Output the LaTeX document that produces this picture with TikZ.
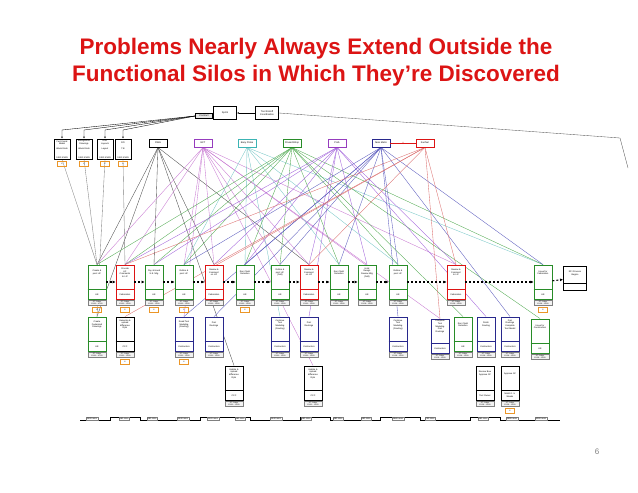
\documentclass[tikz,border=0pt]{standalone}
\usepackage{fontspec}
\setmainfont{Liberation Sans}
\usetikzlibrary{calc,arrows.meta}
\pgfdeclarelayer{bg}
\pgfdeclarelayer{paper}
\pgfsetlayers{paper,bg,main}
\definecolor{tred}{RGB}{220,20,20}
\definecolor{bgreen}{RGB}{40,140,40}
\definecolor{bnavy}{RGB}{40,40,140}
\definecolor{bpurp}{RGB}{150,60,190}
\definecolor{bteal}{RGB}{60,180,180}
\definecolor{borange}{RGB}{235,150,40}
\definecolor{lmag}{RGB}{200,120,210}
\definecolor{lgreen}{RGB}{80,170,80}
\definecolor{lteal}{RGB}{120,200,200}
\definecolor{lnavy}{RGB}{90,90,190}
\definecolor{lred}{RGB}{220,110,110}
\tikzset{
 tbox/.style={draw,line width=0.9pt,minimum width=18pt,minimum height=34pt,inner sep=0pt,fill=white},
 tiny/.style={font=\fontsize{2.2}{2.6}\selectfont,align=center,text width=16pt,inner sep=0pt},
 info/.style={draw=gray,fill=gray!10,line width=0.3pt,minimum width=18pt,minimum height=5pt,inner sep=0pt,font=\fontsize{1.8}{2}\selectfont,align=center},
 obox/.style={draw=borange,line width=0.8pt,minimum width=9pt,minimum height=5pt,inner sep=0pt,font=\fontsize{2}{2}\selectfont},
 topbox/.style={draw,line width=0.9pt,minimum width=18pt,minimum height=8pt,inner sep=0pt,fill=white,font=\fontsize{2.4}{2.6}\selectfont},
 conn/.style={line width=0.35pt},
 flow/.style={line width=1.1pt,dashed,dash pattern=on 2pt off 2pt,-{Latex[length=3pt,width=3pt]}},
 tl/.style={draw=gray,fill=white,line width=0.3pt,inner sep=0.6pt,font=\fontsize{2.2}{2.4}\selectfont}
}
\newcommand\tk[6]{%
 \node[tbox,draw=#4] (#1) at (#2,#3) {};
 \draw[#4,line width=0.5pt] ($(#1.south west)!0.3!(#1.north west)$) -- ($(#1.south east)!0.3!(#1.north east)$);
 \node[tiny] at ([yshift=-8pt]#1.north) {#5};
 \node[tiny] at ([yshift=5pt]#1.south) {#6};
 \node[info,anchor=north] (#1i) at ([yshift=-1pt]#1.south) {ST: 1 days\\[-0.3pt]10/28 -- 10/29};
}
\newcommand\ob[1]{\node[obox,anchor=north] at ([yshift=-1.5pt]#1i.south) {4};}
\begin{document}
\begin{tikzpicture}[x=1pt,y=-1pt]
\useasboundingbox (0,0) rectangle (638,493);
\begin{pgfonlayer}{paper}\fill[white] (0,0) rectangle (638,493);\end{pgfonlayer}
\node[font=\fontsize{22.5}{27}\selectfont\bfseries,text=tred,align=center] (title) at (316,62)
 {Problems Nearly Always Extend Outside the\\Functional Silos in Which They’re Discovered};
\node[font=\fontsize{8}{8}\selectfont,text=gray] (pg) at (597,452) {6};
% top
\node[topbox,minimum width=23pt,minimum height=13pt] (sprint) at (225,113) {Sprint};
\node[topbox,minimum width=23pt,minimum height=13pt,align=center] (kick) at (267,113) {Tool Kickoff\\Coordination};
\node[topbox,minimum width=17pt,minimum height=5pt,fill=gray!20] (contract) at (204,116) {Contract};
\draw[conn,-{Latex[length=2pt]}] (kick) -- (sprint);
\draw[conn] (sprint.west) -- (contract.east);
\coordinate (rt) at (628,168);
\draw[conn,gray!70!black] (kick.east) -- (620,138) -- (rt);
% left boxes
\foreach \n/\x/\a/\b/\c in {l1/62/{Fed Coord\\Model}/{Week Ends}/{0.5/0.5 MIN},l2/84/{Background\\Drawings}/{Week Ends}/{0.5/0.5 MIN},l3/105/{Duct\\Layouts}/{Layout}/{0.5/0.5 MIN},l4/123/{RFI}/{T.B}/{0.5/0.5 MIN}}{
 \node[draw,line width=0.6pt,minimum width=16pt,minimum height=20pt,fill=white] (\n) at (\x,149) {};
 \node[tiny] at ([yshift=-4pt]\n.north) {\a};
 \node[tiny] at (\n.center) {\b};
 \node[tiny] at ([yshift=2pt]\n.south) {\c};
 \node[obox] at (\x,163.5) {4};
 \begin{pgfonlayer}{bg}\draw[conn,-{Latex[length=2pt]}] (contract.west) -- (\x,130) -- (\n.north);\end{pgfonlayer}
}
% top colour boxes
\node[topbox,draw=black] (dwg) at (158,143) {DWG};
\node[topbox,draw=bpurp] (ect) at (203,143) {ECT};
\node[topbox,draw=bteal] (easy) at (247,143) {Easy Probe};
\node[topbox,draw=bgreen] (prased) at (292,143) {Prased Ehop};
\node[topbox,draw=bpurp] (prob) at (337,143) {Prob};
\node[topbox,draw=bnavy] (near) at (381,143) {Near Metro};
\node[topbox,draw=tred] (kach) at (425,143) {Kachari};
\draw[tred,line width=0.8pt] (near) -- node[font=\fontsize{3}{3}\selectfont]{//} (kach);
% main row
\tk{m1}{97}{282}{bgreen}{Create \&\\post LIF}{HE}
\tk{m2}{125}{282}{tred}{Provide\\LIF\\Comments\\to LIF}{Fabrication}
\tk{m3}{154}{282}{bgreen}{Pay \& Hand\\S.E. Mtg}{HE}
\tk{m4}{184}{282}{bgreen}{Refine \&\\post LIF}{HE}
\tk{m5}{214}{282}{tred}{Review \&\\Comment\\on LIF}{Fabrication}
\tk{m6}{245}{282}{bgreen}{Run Clash\\Detection}{HE}
\tk{m7}{280}{282}{bgreen}{Refine \&\\post LIF\\(fold)}{HE}
\tk{m8}{309}{282}{tred}{Review \&\\Comment\\on LIF}{Fabrication}
\tk{m9}{339}{282}{bgreen}{Run Clash\\Detection}{HE}
\tk{m10}{367}{282}{bgreen}{Hold\\Design\\Review Mtg\\(fold)}{HE}
\tk{m11}{398}{282}{bgreen}{Refine \&\\post LIF}{HE}
\tk{m12}{456}{282}{tred}{Review \&\\Comment\\to LIF}{Fabrication}
\tk{m13}{543}{282}{bgreen}{Issue for\\Fabrication}{HE}
\node[tbox,draw=black,minimum width=23pt,minimum height=24pt] (rfi) at (575,278) {};
\draw[line width=0.5pt] ($(rfi.south west)!0.3!(rfi.north west)$) -- ($(rfi.south east)!0.3!(rfi.north east)$);
\node[tiny,text width=20pt] at ([yshift=-8pt]rfi.north) {RFI Process\\Begins};
\ob{m1}\ob{m2}\ob{m3}\ob{m4}\ob{m6}\ob{m13}
\foreach \a/\b in {m1/m2,m2/m3,m3/m4,m4/m5,m5/m6,m6/m7,m7/m8,m8/m9,m9/m10,m10/m11,m11/m12,m12/m13,m13/rfi}
 \draw[flow] (\a) -- (\b);
% second row
\tk{s1}{97}{334}{bgreen}{Create\\Federated\\Drawings}{HE}
\tk{s2}{125}{334}{black}{Generate \&\\upload\\difference\\Rpts}{CCC}
\tk{s3}{184}{334}{bnavy}{Read Tool\\Modeling\\(Routing)}{Contractors}
\tk{s4}{214}{334}{bnavy}{Post\\Routings}{Contractors}
\tk{s5}{280}{334}{bnavy}{Continue\\Tool\\Modeling\\(Routing)}{Contractors}
\tk{s6}{309}{334}{bnavy}{Post\\Routings}{Contractors}
\tk{s7}{398}{334}{bnavy}{Continue\\Tool\\Modeling\\(Routing)}{Contractors}
\tk{s8}{440}{336}{bnavy}{Complete\\Tool\\Modeling\\Post\\Routings}{Contractors}
\tk{s9}{463}{334}{bgreen}{Run Clash\\Detection}{HE}
\tk{s10}{486}{334}{bnavy}{Finish\\Routing}{Contractors}
\tk{s11}{510}{334}{bnavy}{Post\\Routings\\Complete\\Tool Model}{Contractors}
\tk{s12}{540}{336}{bgreen}{Issue for\\Construction}{HE}
\ob{s2}\ob{s3}
% third row
\tk{t1}{234}{383}{black}{Update \&\\upload\\difference\\Rpts}{CCC}
\tk{t2}{313}{383}{black}{Update \&\\upload\\difference\\Rpts}{CCC}
\tk{t3}{485}{383}{black}{Review Bow\\Approve SF}{Tool Owner}
\tk{t4}{510}{383}{black}{Approve SF}{Match 1 ½\\Weeks}
\ob{t4}
% connectors from top sources (behind boxes)
\begin{pgfonlayer}{bg}
\foreach \t in {m1,m3,m5,m8,s1,t1}{\draw[conn,gray!60!black] (dwg.south) -- (\t.north);}
\foreach \t in {m1,m2,m4,m5,m7,m8,m10,m12,s3,s8,t2}{\draw[conn,lmag] (ect.south) -- (\t.north);}
\foreach \t in {m4,m6,m9,m11,m13,s5}{\draw[conn,lteal] (easy.south) -- (\t.north);}
\foreach \t in {m1,m2,m3,m4,m6,m7,m9,m11,m13,s9,s12}{\draw[conn,lgreen] (prased.south) -- (\t.north);}
\foreach \t in {m2,m3,m5,m6,m8,m10,m12,s6,s10}{\draw[conn,lmag!80!blue] (prob.south) -- (\t.north);}
\foreach \t in {m4,m6,m7,m9,m11,m13,s3,s4,s7,s11}{\draw[conn,lnavy] (near.south) -- (\t.north);}
\foreach \t in {m2,m5,m8,m12,s8,s2}{\draw[conn,lred] (kach.south) -- (\t.north);}
\foreach \s/\t in {l1/m1,l2/m1,l3/s1,l4/m2}{\draw[conn,gray] (\s.south) -- (\t.north);}
\end{pgfonlayer}
% timeline
\draw[line width=0.4pt] (80,420) -- (110,420) -- (110,417) -- (140,417) -- (140,420) -- (200,420) -- (200,417) -- (250,417) -- (250,420) -- (300,420) -- (300,417) -- (330,417) -- (330,420) -- (380,420) -- (380,417) -- (420,417) -- (420,420) -- (470,420) -- (470,417) -- (500,417) -- (500,420) -- (560,420);
\foreach \x/\l in {92/2400 mins,124/960 mins,152/960 mins,183/1440 mins,213/1320 mins,240/960 mins,276/1440 mins,306/960 mins,338/480 mins,366/960 mins,398/2880 mins,430/720 mins,483/960 mins,512/2880 mins,541/5000 mins}
 \node[tl] at (\x,418.5) {\l};
\end{tikzpicture}
\end{document}
